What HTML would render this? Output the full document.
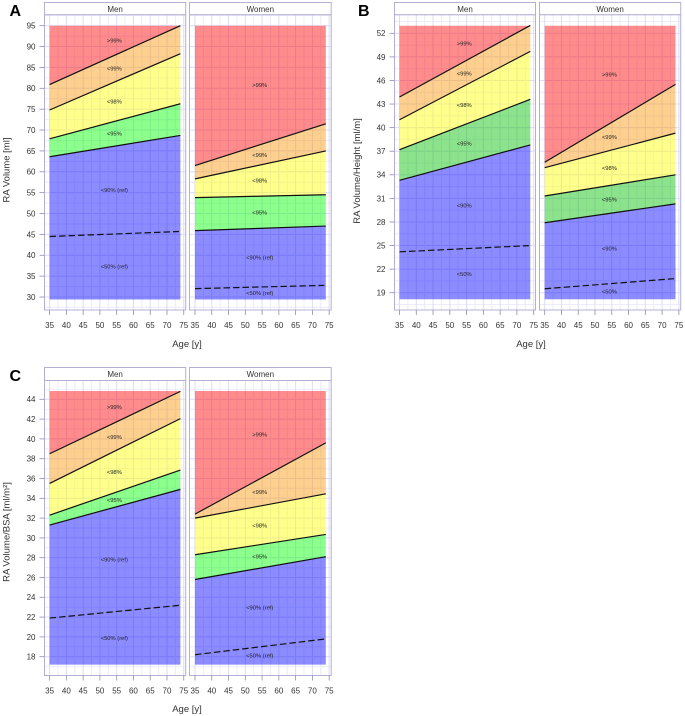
<!DOCTYPE html>
<html>
<head>
<meta charset="utf-8">
<title>RA volume percentile charts</title>
<style>
html,body{margin:0;padding:0;background:#fff;}
body{width:685px;height:716px;overflow:hidden;}
svg{display:block;font-family:"Liberation Sans",sans-serif;filter:blur(0.35px);}
</style>
</head>
<body>
<svg id="chart" xmlns="http://www.w3.org/2000/svg" width="685" height="716" viewBox="0 0 685 716"></svg>
<script>
// Ages at which each percentile line is read
const ageRange = [35, 74];
const ageTicks = [35, 40, 45, 50, 55, 60, 65, 70, 75];

// Percentile boundaries, top to bottom: >99/<99, <99/<98, <98/<95, <95/<90, 50th (dashed)
const aMenAt35 = [80.9, 74.8, 67.9, 63.6, 44.5];
const aMenAt74 = [95.0, 88.3, 76.3, 68.7, 45.7];
const aWomenAt35 = [61.5, 58.3, 53.8, 45.9, 32.0];
const aWomenAt74 = [71.5, 65.0, 54.5, 47.0, 32.8];

const bMenAt35 = [43.9, 41.0, 37.2, 33.3, 24.2];
const bMenAt74 = [53.0, 49.7, 43.6, 37.8, 25.0];
const bWomenAt35 = [35.6, 34.9, 31.3, 27.9, 19.5];
const bWomenAt74 = [45.5, 39.3, 34.0, 30.3, 20.8];

const cMenAt35 = [38.5, 35.5, 32.3, 31.3, 21.9];
const cMenAt74 = [44.8, 42.05, 36.85, 34.9, 23.2];
const cWomenAt35 = [32.4, 32.0, 28.3, 25.8, 18.2];
const cWomenAt74 = [39.6, 34.45, 30.35, 28.1, 19.8];

// Y axis tick labels
const aTicks = [30, 35, 40, 45, 50, 55, 60, 65, 70, 75, 80, 85, 90, 95];
const bTicks = [19, 22, 25, 28, 31, 34, 37, 40, 43, 46, 49, 52];
const cTicks = [18, 20, 22, 24, 26, 28, 30, 32, 34, 36, 38, 40, 42, 44];

// Filled range of each chart: [bottom, top]
const aRange = [29.4, 95];
const bRange = [18.16, 52.97];
const cRange = [17.2, 44.84];

// Band labels
const refBandLabels = [">99%", "<99%", "<98%", "<95%", "<90% (ref)", "<50% (ref)"];
const plainBandLabels = [">99%", "<99%", "<98%", "<95%", "<90%", "<50%"];

const NS = "http://www.w3.org/2000/svg";
const svg = document.getElementById("chart");

function make(parent, tag, attrs, text) {
  const el = document.createElementNS(NS, tag);
  for (const k in attrs) el.setAttribute(k, attrs[k]);
  if (text !== undefined) el.textContent = text;
  parent.appendChild(el);
  return el;
}

function drawPanel(root, fig, sex, box, at35, at74, labels) {
  const xScale = a => box.x35 + (a - 35) * box.pxPerYear;
  const yScale = v => fig.yRef + (fig.valRef - v) * fig.pxPerUnit;
  const name = fig.id + "-" + sex.toLowerCase();

  const g = make(root, "g", {});
  
  

  const bg = make(g, "rect", {x: box.left, y: fig.stripBottom, width: box.right - box.left, height: fig.bottom - fig.stripBottom, fill: "#fff"});
  
  

  // Grid
  const gridVal0 = fig.ticks[0];
  for (let v = gridVal0 - 6 * fig.gridStep, i = -6; yScale(v) > fig.stripBottom - 0.01; i++, v = gridVal0 + i * fig.gridStep) {
    const yy = yScale(v);
    if (yy > fig.bottom) continue;
    const hg = make(g, "line", {x1: box.left, x2: box.right, y1: yy, y2: yy, stroke: i % 2 === 0 ? "#dcdcf6" : "#ececfb", "stroke-width": 1});
    
    
  }
  for (let a = 32.5; a <= 77.5; a += 2.5) {
    const xx = xScale(a);
    if (xx < box.left || xx > box.right) continue;
    const vg = make(g, "line", {x1: xx, x2: xx, y1: fig.stripBottom, y2: fig.bottom, stroke: a % 5 === 0 ? "#dcdcf6" : "#ececfb", "stroke-width": 1});
    
    
  }

  // Bands
  const colors = ["#ff0000", "#fa9706", "#ffff00", fig.green, "#0000ff"];
  const bandNames = ["above-99", "below-99", "below-98", "below-95", "below-90"];
  const x0 = xScale(ageRange[0]);
  const x1 = xScale(ageRange[1]);
  const bottomV = fig.range[0];
  const topV = fig.range[1];
  for (let i = 0; i < 5; i++) {
    const upper0 = i === 0 ? topV : at35[i - 1];
    const upper1 = i === 0 ? topV : at74[i - 1];
    const lower0 = i === 4 ? bottomV : at35[i];
    const lower1 = i === 4 ? bottomV : at74[i];
    const pts = [[x0, yScale(upper0)], [x1, yScale(upper1)], [x1, yScale(lower1)], [x0, yScale(lower0)]];
    const band = make(g, "polygon", {points: pts.map(p => p.join(",")).join(" "), fill: colors[i], "fill-opacity": 0.45});
    
    
  }

  // Lines
  for (let i = 0; i < 5; i++) {
    const dashed = i === 4;
    const ln = make(g, "line", {
      x1: x0, y1: yScale(at35[i]),
      x2: dashed ? x1 - 1.5 : x1, y2: yScale(at35[i] + (at74[i] - at35[i]) * (dashed ? 38.55 / 39 : 1)),
      stroke: "#111", "stroke-width": 1.2
    });
    if (dashed) ln.setAttribute("stroke-dasharray", "6.5 3");
    
    
  }

  // Band labels, centred between neighbouring boundaries at mid age
  const midVal = i => (at35[i] + at74[i]) / 2;
  const levels = [topV, midVal(0), midVal(1), midVal(2), midVal(3), midVal(4), bottomV];
  for (let i = 0; i < 6; i++) {
    const cy = yScale((levels[i] + levels[i + 1]) / 2);
    const lab = make(g, "text", {x: xScale(54.3), y: cy + 2, "font-size": 5.8, fill: "#222", "text-anchor": "middle"}, labels[i]);
    
    
  }

  // Panel border
  const frame = make(g, "rect", {x: box.left, y: fig.stripBottom, width: box.right - box.left, height: fig.bottom - fig.stripBottom, fill: "none", stroke: "#b4b0d4", "stroke-width": 1});
  
  

  // Strip
  const strip = make(g, "rect", {x: box.left, y: fig.top, width: box.right - box.left, height: fig.stripBottom - fig.top, fill: "#fff", stroke: "#b4b0d4", "stroke-width": 1});
  
  
  const stripText = make(g, "text", {x: (box.left + box.right) / 2, y: fig.top + 9.3, "font-size": 8, fill: "#333", "text-anchor": "middle"}, sex);
  
  

  // X ticks
  ageTicks.forEach(a => {
    const xx = xScale(a);
    const t = make(g, "line", {x1: xx, x2: xx, y1: fig.bottom, y2: fig.bottom + 5, stroke: "#8f8bb0", "stroke-width": 0.8});
    
    
    const tl = make(g, "text", {x: xx, y: fig.bottom + 18.2, "font-size": 8, fill: "#333", "text-anchor": "middle"}, a);
    
    
  });

  // Y ticks (left panel only)
  if (sex === "Men") {
    fig.ticks.forEach(v => {
      const yy = yScale(v);
      const t = make(g, "line", {x1: box.left - 5, x2: box.left, y1: yy, y2: yy, stroke: "#8f8bb0", "stroke-width": 0.8});
      
      
      const tl = make(g, "text", {x: box.left - 9, y: yy + 2.9, "font-size": 8, fill: "#333", "text-anchor": "end"}, v);
      
      
    });
  }
}

function drawFigure(fig) {
  const root = make(svg, "g", {});
  
  

  drawPanel(root, fig, "Men", fig.men, fig.menAt35, fig.menAt74, fig.menLabels);
  drawPanel(root, fig, "Women", fig.women, fig.womenAt35, fig.womenAt74, fig.womenLabels);

  const letter = make(root, "text", {x: fig.letterX, y: fig.letterY, "font-size": 16, "font-weight": "bold", fill: "#000"}, fig.id.toUpperCase());
  
  

  const xt = make(root, "text", {x: fig.xTitleX, y: fig.xTitleY, "font-size": 9.5, fill: "#333", "text-anchor": "middle"}, "Age [y]");
  
  

  const yt = make(root, "text", {x: 0, y: 0, "font-size": 9.5, fill: "#333", "text-anchor": "middle", transform: "translate(" + fig.yTitleX + "," + fig.yTitleY + ") rotate(-90)"}, fig.yTitle);
  
  
}

const leftBoxes = {
  men: {left: 44.5, right: 185.7, x35: 49.6, pxPerYear: 3.354},
  women: {left: 189.5, right: 331.2, x35: 195, pxPerYear: 3.354}
};
const rightBoxes = {
  men: {left: 394.5, right: 535.5, x35: 399.5, pxPerYear: 3.354},
  women: {left: 539.5, right: 680.7, x35: 544.7, pxPerYear: 3.354}
};

drawFigure({
  id: "a", men: leftBoxes.men, women: leftBoxes.women, range: aRange, ticks: aTicks, gridStep: 2.5,
  top: 2.5, stripBottom: 14.7, bottom: 310, yRef: 297, valRef: 30, pxPerUnit: 4.174,
  green: "#00ff00", menAt35: aMenAt35, menAt74: aMenAt74, womenAt35: aWomenAt35, womenAt74: aWomenAt74,
  menLabels: refBandLabels, womenLabels: refBandLabels,
  letterX: 9.5, letterY: 16, xTitleX: 187, xTitleY: 347, yTitle: "RA Volume [ml]", yTitleX: 9.5, yTitleY: 170
});
drawFigure({
  id: "b", men: rightBoxes.men, women: rightBoxes.women, range: bRange, ticks: bTicks, gridStep: 1.5,
  top: 2.5, stripBottom: 14.7, bottom: 310, yRef: 292.7, valRef: 19, pxPerUnit: 7.86,
  green: "#00c000", menAt35: bMenAt35, menAt74: bMenAt74, womenAt35: bWomenAt35, womenAt74: bWomenAt74,
  menLabels: plainBandLabels, womenLabels: plainBandLabels,
  letterX: 358, letterY: 16, xTitleX: 531, xTitleY: 347, yTitle: "RA Volume/Height [ml/m]", yTitleX: 360, yTitleY: 171
});
drawFigure({
  id: "c", men: leftBoxes.men, women: leftBoxes.women, range: cRange, ticks: cTicks, gridStep: 1,
  top: 367.5, stripBottom: 380.5, bottom: 675.5, yRef: 656.7, valRef: 18, pxPerUnit: 9.9,
  green: "#00ff00", menAt35: cMenAt35, menAt74: cMenAt74, womenAt35: cWomenAt35, womenAt74: cWomenAt74,
  menLabels: refBandLabels, womenLabels: refBandLabels,
  letterX: 9.5, letterY: 381, xTitleX: 187, xTitleY: 712, yTitle: "RA Volume/BSA [ml/m\u00B2]", yTitleX: 9.5, yTitleY: 532
});
</script>
</body>
</html>
